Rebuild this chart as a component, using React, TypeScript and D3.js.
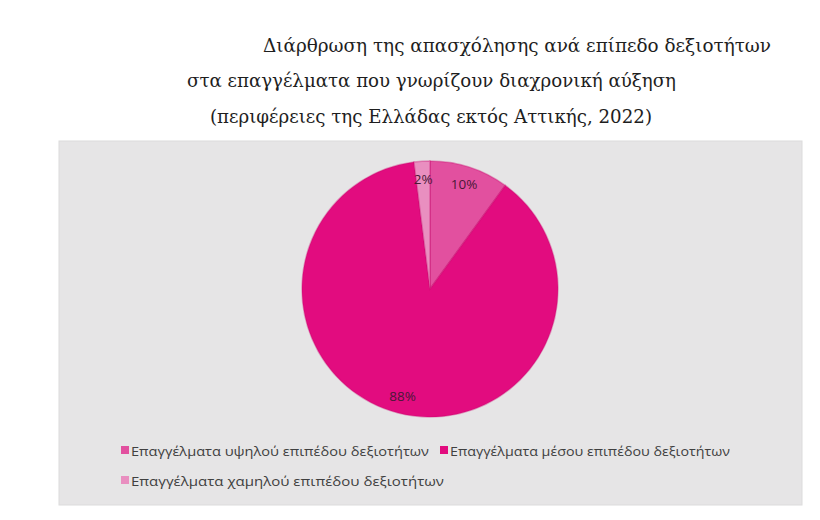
import React from 'react';
import * as d3 from 'd3';

// skill levels, in the order the slices run clockwise from 12 o'clock
const categories = [
  'Επαγγέλματα υψηλού επιπέδου δεξιοτήτων',
  'Επαγγέλματα μέσου επιπέδου δεξιοτήτων',
  'Επαγγέλματα χαμηλού επιπέδου δεξιοτήτων',
];
const shares = [10, 88, 2];
const colors = ['#e2509f', '#e20c7f', '#e98fc0'];

const titleLines = [
  'Διάρθρωση της απασχόλησης ανά επίπεδο δεξιοτήτων',
  'στα επαγγέλματα που γνωρίζουν διαχρονική αύξηση',
  '(περιφέρειες της Ελλάδας εκτός Αττικής, 2022)',
];

interface Slice {
  name: string;
  value: number;
  color: string;
}

const data: Slice[] = categories.map((name, i) => ({ name, value: shares[i], color: colors[i] }));

const App: React.FC = () => {
  const width = 820;
  const height = 520;
  const cx = 430;
  const cy = 289;
  const radius = 128;

  const pie = d3.pie<Slice>().value(d => d.value).sort(null);
  const arcs = pie(data);
  const arc = d3.arc<d3.PieArcDatum<Slice>>().innerRadius(0).outerRadius(radius);
  const labelArc = d3.arc<d3.PieArcDatum<Slice>>().innerRadius(110).outerRadius(110);

  // title lines: x, baseline, width as in the picture
  const titlePos = [
    { x: 263, y: 52, w: 508 },
    { x: 187, y: 87, w: 489 },
    { x: 210, y: 123, w: 442 },
  ];

  const sans = '"Open Sans", "Noto Sans", sans-serif';
  const legend = [
    { x: 121, y: 456, w: 298 },
    { x: 440, y: 456, w: 280 },
    { x: 121, y: 486, w: 313 },
  ];

  return (
    <svg width={width} height={height} style={{ display: 'block', margin: -8 }}>
      <rect x={0} y={0} width={width} height={height} fill="#ffffff" />
      {titleLines.map((t, i) => (
        <text
          key={i}
          x={titlePos[i].x}
          y={titlePos[i].y}
          fontFamily='"DejaVu Serif", serif'
          fontSize={18.5}
          fill="#1e1e1e"
          textLength={titlePos[i].w}
          lengthAdjust="spacingAndGlyphs"
        >
          {t}
        </text>
      ))}

      <rect x={59} y={141} width={743} height={364} fill="#e6e5e6" stroke="#dcdbdc" strokeWidth={1} />

      <g transform={`translate(${cx},${cy})`}>
        {arcs.map((a, i) => (
          <path key={i} d={arc(a) || ''} fill={a.data.color} stroke="#c9086c" strokeOpacity={0.35} strokeWidth={1.5} />
        ))}
        {arcs.map((a, i) => {
          const [lx, ly] = labelArc.centroid(a);
          return (
            <text
              key={i}
              x={lx}
              y={ly}
              textAnchor="middle"
              dominantBaseline="central"
              fontFamily={sans}
              fontSize={13.5}
              fill="#4a1838"
            >
              {d3.format('d')(a.data.value)}%
            </text>
          );
        })}
      </g>

      {data.map((d, i) => (
        <g key={i} transform={`translate(${legend[i].x},${legend[i].y})`}>
          <rect x={0} y={-10} width={8} height={8} fill={d.color} />
          <text
            x={10}
            y={0}
            fontFamily={sans}
            fontSize={13.5}
            fill="#404040"
            textLength={legend[i].w}
            lengthAdjust="spacingAndGlyphs"
          >
            {d.name}
          </text>
        </g>
      ))}
    </svg>
  );
};

export default App;
